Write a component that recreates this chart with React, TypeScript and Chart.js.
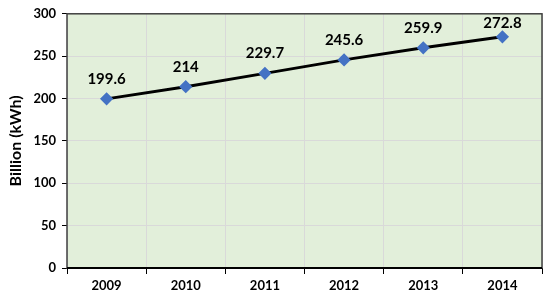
import React, { useEffect, useRef } from "react";
import { Chart, registerables } from "chart.js";

Chart.register(...registerables);

const categories = ["2009", "2010", "2011", "2012", "2013", "2014"];
const values = [199.6, 214, 229.7, 245.6, 259.9, 272.8];
const valueLabels = ["199.6", "214", "229.7", "245.6", "259.9", "272.8"];
const yTitle = "Billion (kWh)";

const FONT = "Lato, 'Open Sans', sans-serif";

const bgPlugin = {
  id: "bgPlugin",
  beforeDraw(chart: any) {
    const { ctx, chartArea } = chart;
    ctx.save();
    ctx.fillStyle = "#E2EFDA";
    ctx.fillRect(chartArea.left, chartArea.top, chartArea.right - chartArea.left, chartArea.bottom - chartArea.top);
    ctx.restore();
  },
  afterDatasetsDraw(chart: any) {
    const { ctx, chartArea } = chart;
    ctx.save();
    ctx.strokeStyle = "#404040";
    ctx.lineWidth = 1.5;
    ctx.strokeRect(chartArea.left, chartArea.top, chartArea.right - chartArea.left, chartArea.bottom - chartArea.top);
    ctx.beginPath();
    ctx.lineWidth = 2;
    ctx.strokeStyle = "#000";
    ctx.moveTo(chartArea.left, chartArea.bottom);
    ctx.lineTo(chartArea.right, chartArea.bottom);
    ctx.stroke();
    const meta = chart.getDatasetMeta(0);
    ctx.fillStyle = "#000";
    ctx.font = `bold 15px ${FONT}`;
    ctx.textAlign = "center";
    ctx.textBaseline = "alphabetic";
    meta.data.forEach((pt: any, i: number) => {
      const y = Math.max(pt.y - 15, chartArea.top + 14);
      ctx.fillText(valueLabels[i], pt.x, y);
    });
    ctx.restore();
  },
};

export default function App() {
  const ref = useRef<HTMLCanvasElement>(null);
  useEffect(() => {
    document.body.style.margin = "0";
    const chart = new Chart(ref.current!, {
      type: "line",
      data: {
        labels: categories,
        datasets: [
          {
            data: values,
            borderColor: "#000000",
            borderWidth: 3,
            pointStyle: "rectRot",
            pointRadius: 4.5,
            pointBackgroundColor: "#4472C4",
            pointBorderColor: "#4472C4",
            tension: 0,
          },
        ],
      },
      options: {
        animation: false,
        responsive: false,
        maintainAspectRatio: false,
        layout: { padding: { left: 0, right: 8, top: 13, bottom: 0 } },
        plugins: { legend: { display: false }, tooltip: { enabled: false } },
        scales: {
          x: {
            offset: true,
            grid: { color: "#D9D9D9", lineWidth: 1, tickLength: 6, tickColor: "#000", offset: true },
            border: { display: false },
            ticks: { color: "#000", font: { family: FONT, size: 13, weight: "bold" }, padding: 4 },
            afterFit(scale: any) {
              scale.height = 32;
            },
          },
          y: {
            min: 0,
            max: 300,
            ticks: { stepSize: 50, color: "#000", font: { family: FONT, size: 13, weight: "bold" }, padding: 6 },
            grid: { color: "#D9D9D9", lineWidth: 1, tickLength: 5, tickColor: "#000" },
            border: { display: false },
            title: { display: true, text: yTitle, color: "#000", font: { family: FONT, size: 16, weight: "bold" }, padding: { top: 6, bottom: 0 } },
            afterFit(scale: any) {
              scale.width = 67;
            },
          },
        },
      },
      plugins: [bgPlugin],
    });
    return () => chart.destroy();
  }, []);
  return (
    <div style={{ position: "fixed", left: 0, top: 0, width: 550, height: 300, background: "#fff" }}>
      <canvas ref={ref} width={550} height={300} />
    </div>
  );
}
